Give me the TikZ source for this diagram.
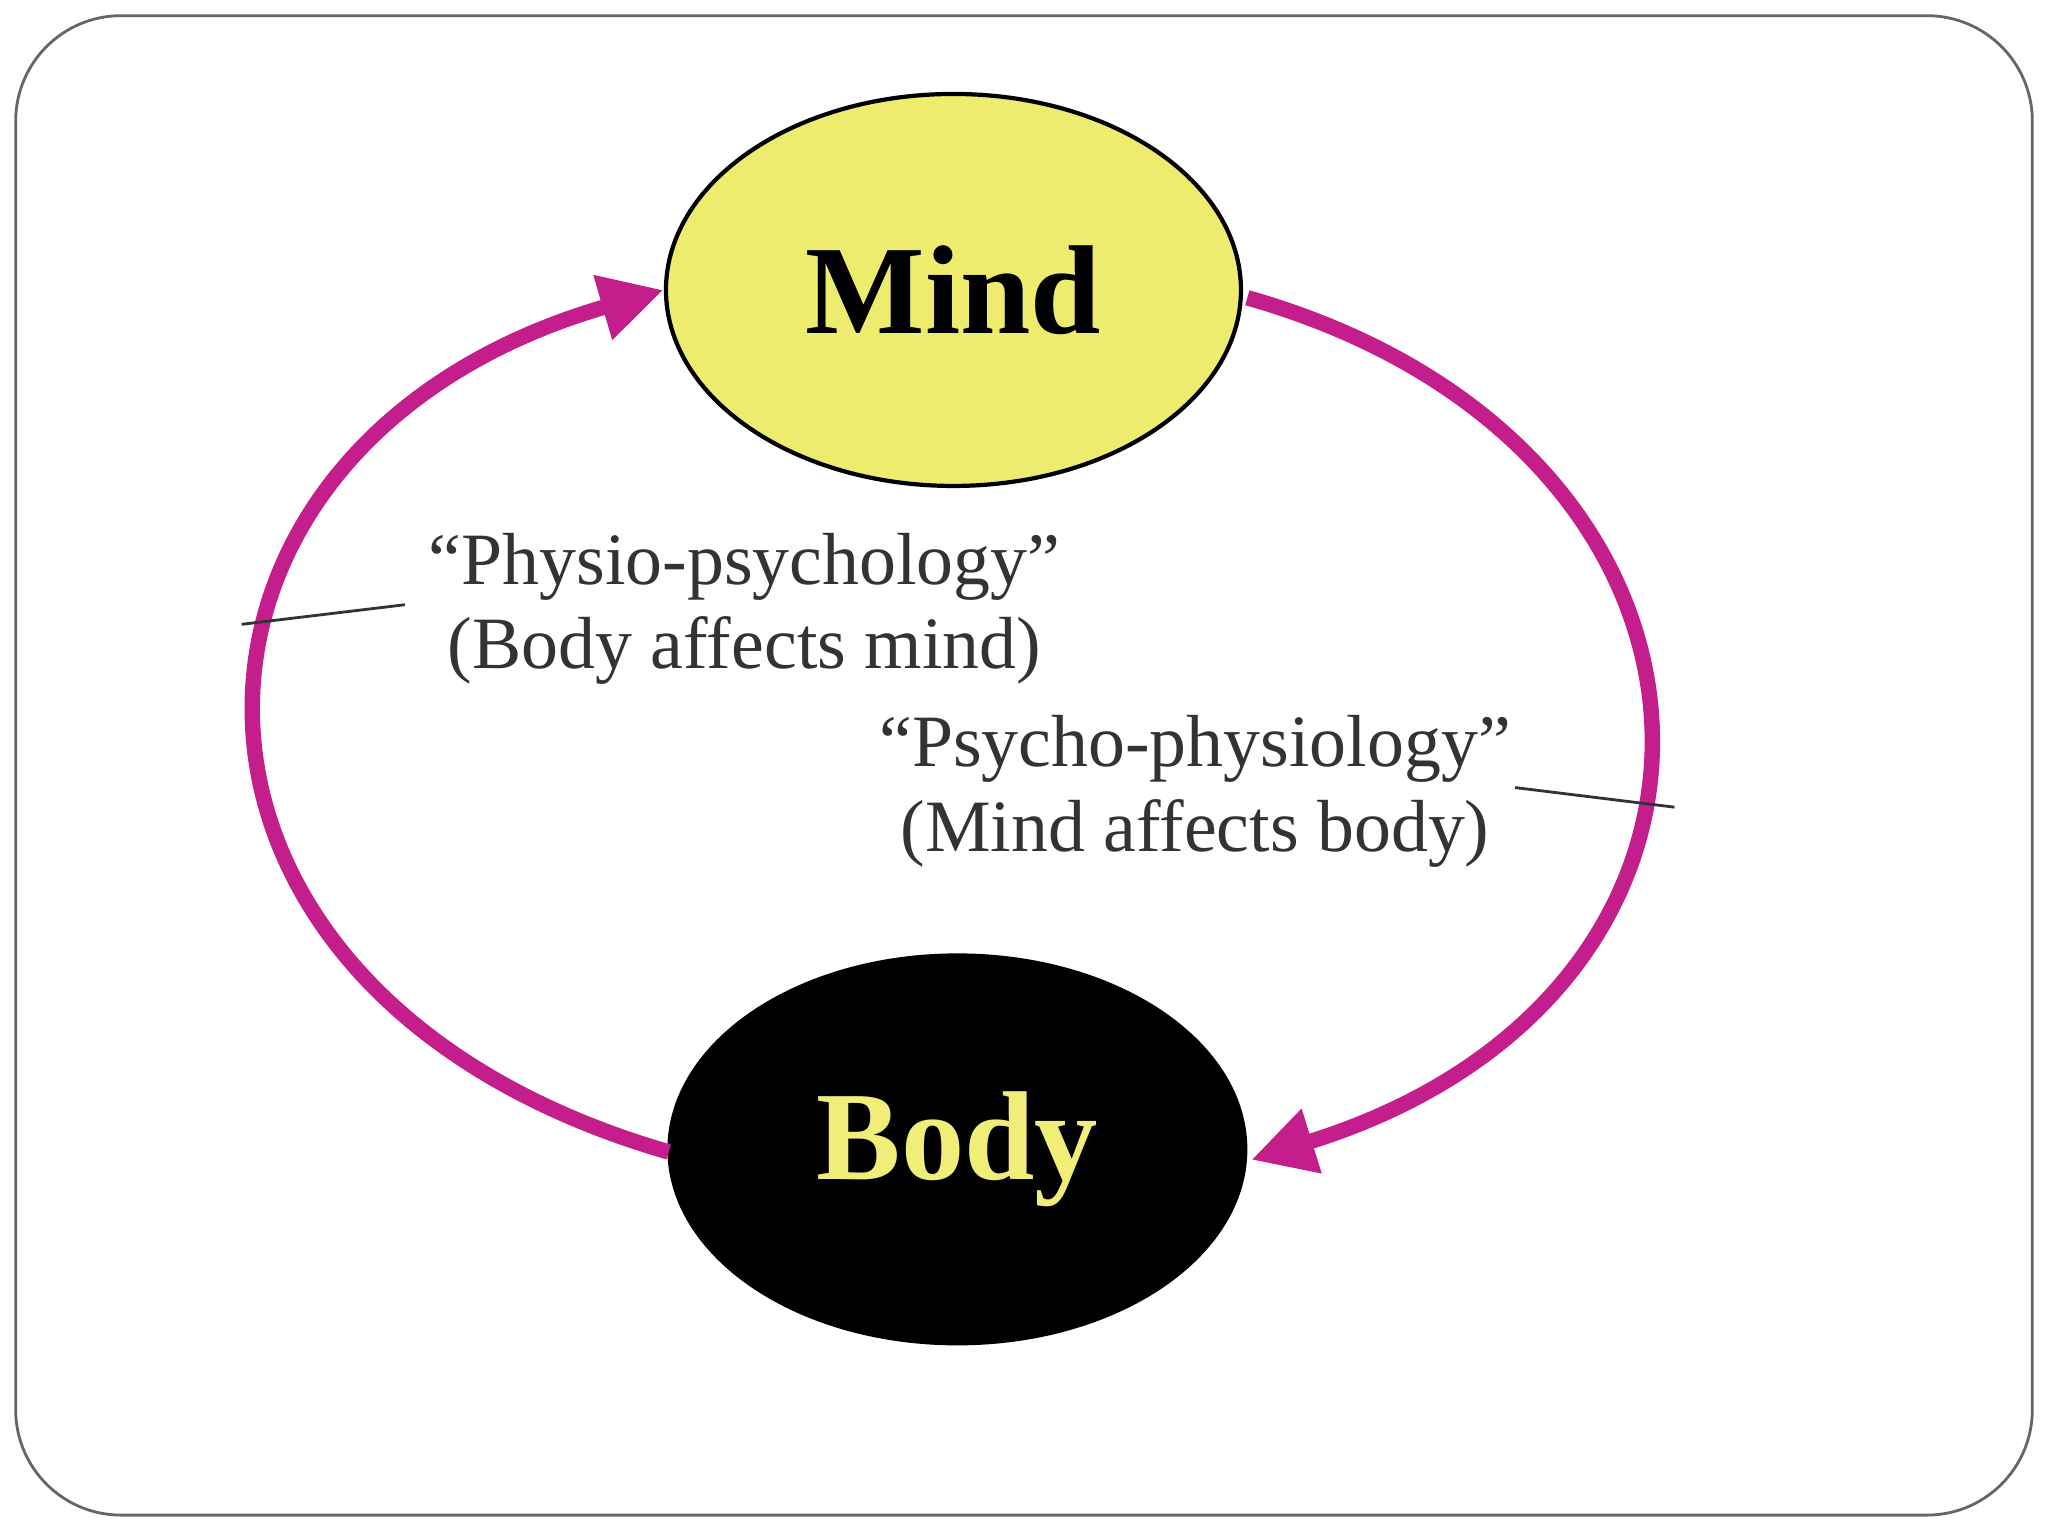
\documentclass[tikz,border=0pt]{standalone}
\usepackage{fontspec}
\setmainfont{Liberation Serif}
\usetikzlibrary{arrows.meta,shapes.geometric}
\definecolor{myellow}{RGB}{238,236,110}
\definecolor{magent}{RGB}{196,30,140}
\definecolor{bodytxt}{RGB}{240,238,120}
\tikzset{
 arc/.style={draw=magent,line width=4.4pt,-{Triangle[length=18pt,width=18pt]}},
 lbl/.style={font=\fontsize{21}{24}\selectfont,text=black!80,align=center},
 ptr/.style={draw=black!80,line width=0.8pt}
}
\begin{document}
\begin{tikzpicture}[x=0.01306cm,y=-0.01306cm]
\useasboundingbox (0,0) rectangle (1568,1176);
\fill[white] (0,0) rectangle (1568,1176);
\draw[black!60,line width=0.8pt,rounded corners=30] (12,12) rectangle (1556,1160);
\node[ellipse,draw=black,line width=1.2pt,fill=myellow,minimum width=5.75cm,minimum height=3.92cm,font=\bfseries\fontsize{36}{40}\selectfont] (mind) at (730,222) {Mind};
\node[ellipse,fill=black,minimum width=5.8cm,minimum height=3.92cm,text=bodytxt,font=\bfseries\fontsize{36}{40}\selectfont] (body) at (733,880) {Body};
\coordinate (mr) at (955,228);
\coordinate (br) at (958,888);
\coordinate (bl) at (512,882);
\coordinate (ml) at (508,222);
\draw[arc] (mr) .. controls (1350,340) and (1370,760) .. (br);
\draw[arc] (bl) .. controls (90,760) and (100,340) .. (ml);
\node[lbl] (l1) at (570,466) {“Physio-psychology”\\(Body affects mind)};
\node[lbl] (l2) at (915,606) {“Psycho-physiology”\\(Mind affects body)};
\coordinate (p1) at (185,478);
\coordinate (p1e) at (310,463);
\coordinate (p2s) at (1160,603);
\coordinate (p2) at (1282,618);
\draw[ptr] (p1) -- (p1e);
\draw[ptr] (p2s) -- (p2);
\end{tikzpicture}
\end{document}
